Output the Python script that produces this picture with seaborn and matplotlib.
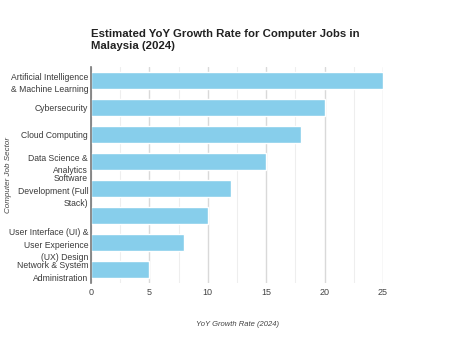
import matplotlib
matplotlib.use("Agg")
import matplotlib.pyplot as plt
import seaborn as sns
import pandas as pd

sectors = [
    "AI & ML", "Cybersecurity", "Cloud Computing", "Data Science",
    "Software Development", "Mobile Development", "UI/UX Design", "Network Admin",
]
tick_labels = [
    "Artificial Intelligence\n& Machine Learning",
    "Cybersecurity",
    "Cloud Computing",
    "Data Science &\nAnalytics",
    "Software\nDevelopment (Full\nStack)",
    "",
    "User Interface (UI) &\nUser Experience\n(UX) Design",
    "Network & System\nAdministration",
]
growth = [25, 20, 18, 15, 12, 10, 8, 5]

df = pd.DataFrame({"sector": sectors, "growth": growth})

sns.set_theme(style="white")
plt.rcParams["font.family"] = ["Liberation Sans", "DejaVu Sans"]

fig = plt.figure(figsize=(4.74, 3.48), dpi=100)
ax = fig.add_axes([0.192, 0.187, 0.616, 0.62])

sns.barplot(data=df, x="growth", y="sector", color="#87CEEB", width=0.62,
            saturation=1, ax=ax, zorder=3)

ax.set_xlim(0, 25)
ax.set_xticks([0, 5, 10, 15, 20, 25])
ax.set_xticks([2.5, 7.5, 12.5, 17.5, 22.5], minor=True)
ax.grid(axis="x", which="major", color="#d9d9d9", linewidth=1, zorder=0)
ax.grid(axis="x", which="minor", color="#eeeeee", linewidth=0.8, zorder=0)
ax.set_axisbelow(True)

ax.set_yticks(range(len(sectors)))
ax.set_yticklabels(tick_labels, fontsize=6.2, color="#3a3a3a", linespacing=1.45)
ax.tick_params(axis="x", labelsize=6.5, labelcolor="#444444", length=0, pad=4)
ax.tick_params(axis="y", length=0, pad=2)

for s in ["top", "right", "bottom"]:
    ax.spines[s].set_visible(False)
ax.spines["left"].set_color("#777777")
ax.spines["left"].set_linewidth(1.2)
ax.spines["left"].set_zorder(5)

ax.set_xlabel("YoY Growth Rate (2024)", fontsize=5.5, style="italic",
              color="#444444")
ax.xaxis.set_label_coords(0.5, -0.175)
ax.set_ylabel("Computer Job Sector", fontsize=5.8, style="italic",
              color="#444444")
ax.yaxis.set_label_coords(-0.27, 0.5)

fig.text(0.192, 0.853, "Estimated YoY Growth Rate for Computer Jobs in\nMalaysia (2024)",
         fontsize=8.2, fontweight="bold", color="#222222", ha="left", va="bottom",
         linespacing=1.3)

fig.savefig("out.png", dpi=100)
